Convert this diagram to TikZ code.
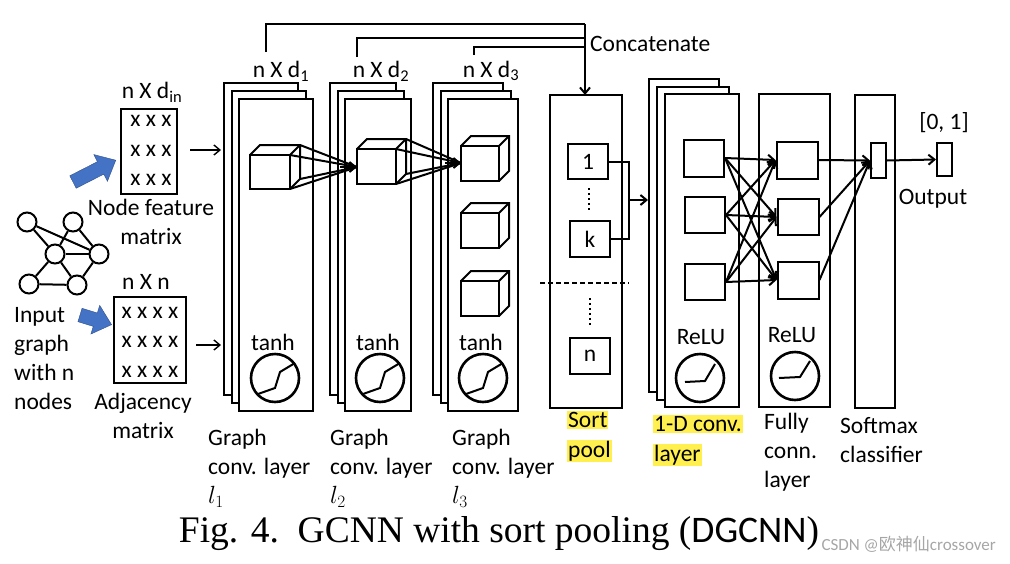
\documentclass[tikz,border=0pt]{standalone}
\usepackage{fontspec}
\setmainfont{Carlito}
\newfontfamily\capfont{Liberation Serif}
\newfontfamily\cjk{Noto Sans CJK SC}
\usetikzlibrary{arrows.meta}
\definecolor{blockblue}{RGB}{68,114,196}
\definecolor{hl}{RGB}{255,240,80}
\newcommand\mycube[5]{% x y w h depth
  \draw[lw,fill=white] (#1,#2) rectangle ++(#3,#4);
  \draw[lw] (#1,#2) -- ++(#5,-#5) -- ++(#3,0) -- ++(0,#4) -- ++(-#5,#5);
  \draw[lw] (#1+#3,#2) -- ++(#5,-#5);
}
\newcommand\blockarrow[4]{% x y angle length
  \fill[blockblue,draw=blockblue!70!black,shift={(#1,#2)},rotate=#3]
    (0,-7) -- (#4-17,-7) -- (#4-17,-15) -- (#4,0) -- (#4-17,15) -- (#4-17,7) -- (0,7) -- cycle;
}
\begin{document}
\begin{tikzpicture}[x=1pt,y=-1pt,
  lw/.style={line width=2pt},
  txt/.style={inner sep=0pt,font=\fontsize{23.5}{29}\selectfont,align=center},
  lbl/.style={txt,anchor=north west,align=left},
  box/.style={draw,lw,fill=white},
  ar/.style={-{Straight Barb[length=6pt,width=10pt]},lw},
  circ/.style={circle,draw,line width=2.6pt,minimum size=48pt,inner sep=0pt},
  gn/.style={circle,draw,lw,minimum size=19pt,inner sep=0pt}]
\useasboundingbox (0,0) rectangle (1010,563);

% input graph
\node[gn] (g1) at (27,222) {};
\node[gn] (g2) at (73,222) {};
\node[gn] (g3) at (55,254) {};
\node[gn] (g4) at (99,254) {};
\node[gn] (g5) at (29,284) {};
\node[gn] (g6) at (77,285) {};
\foreach \a/\b in {g1/g3,g1/g4,g2/g3,g2/g4,g3/g4,g3/g5,g3/g6,g5/g6,g4/g6}
  \draw[lw] (\a) -- (\b);
\node[lbl] (inp) at (14,307) {Input\\graph\\with n\\nodes};

% feature matrix
\node[txt] (din) at (152,92) {n X d\textsubscript{in}};
\node[box,minimum width=56pt,minimum height=85pt] (fm) at (149,151.5) {};
\node[txt] (fr1) at (151,121) {x x x};
\node[txt] (fr2) at (151,151) {x x x};
\node[txt] (fr3) at (151,180) {x x x};
\node[txt] (fml) at (151,222) {Node feature\\matrix};
\blockarrow{73}{182}{27}{48}

% adjacency
\node[txt] (nn) at (146,282) {n X n};
\node[box,minimum width=72pt,minimum height=86pt] (am) at (150,340) {};
\node[txt] (ar1) at (150,313) {x x x x};
\node[txt] (ar2) at (150,342) {x x x x};
\node[txt] (ar3) at (150,372) {x x x x};
\node[txt] (aml) at (143,416) {Adjacency\\matrix};
\blockarrow{80}{315}{-17}{33}

% stacked layers
\foreach \x/\w in {224/74,330/66,433/70} {
  \draw[box] (\x,83) rectangle ++(\w,312);
  \draw[box] (\x+7.5,91) rectangle ++(\w,312);
  \draw[box] (\x+15,99) rectangle ++(\w,312);
}
\coordinate (l1in) at (221,150);
\coordinate (l1in2) at (221,345);
\coordinate (fmo) at (190,150);
\coordinate (amo) at (196,345);
\draw[ar,line width=1.4pt] (fmo) -- (l1in);
\draw[ar,line width=1.4pt] (amo) -- (l1in2);

\node[txt] (d1) at (281,71) {n X d\textsubscript{1}};
\node[txt] (d2) at (381,71) {n X d\textsubscript{2}};
\node[txt] (d3) at (491,71) {n X d\textsubscript{3}};

% cubes
\mycube{250}{155}{40}{34}{10}
\mycube{357}{149}{39}{35}{10}
\mycube{461}{146}{38}{35}{10}
\mycube{461}{213}{38}{35}{10}
\mycube{461}{281}{38}{35}{10}
\coordinate (c2in) at (357,167);
\coordinate (c3in) at (461,163);
\foreach \p in {(290,155),(300,145),(300,179),(290,189)} \draw[lw] \p -- (c2in);
\draw[ar] (340,167) -- (c2in);
\foreach \p in {(396,149),(406,139),(406,174),(396,184)} \draw[lw] \p -- (c3in);
\draw[ar] (445,163) -- (c3in);

% activations
\foreach \cx/\cy/\n in {275/378/t1,380/378/t2,483/378/t3} {
  \node[circ] (\n) at (\cx,\cy) {};
  \draw[lw] (\cx-17,\cy+16) -- (\cx,\cy+10) -- (\cx+5,\cy-6) -- (\cx+20,\cy-15);
  \node[txt] at (\cx-2,\cy-36) {tanh};
}
\node[lbl] (gl1) at (208,429) {Graph\\conv. layer\\$l_1$};
\node[lbl] (gl2) at (330,429) {Graph\\conv. layer\\$l_2$};
\node[lbl] (gl3) at (452,429) {Graph\\conv. layer\\$l_3$};

% sort pool
\draw[box] (550,95) rectangle (622,408);
\node[box,txt,minimum width=40pt,minimum height=35pt] (s1) at (588,161.5) {1};
\node[box,txt,minimum width=40pt,minimum height=36pt] (sk) at (590,239) {k};
\node[box,txt,minimum width=40pt,minimum height=36pt] (sn) at (590,356) {n};
\draw[line width=2.4pt,dash pattern=on 2pt off 3pt] (589,188) -- (589,212);
\draw[line width=2.4pt,dash pattern=on 2pt off 3pt] (590,298) -- (590,326);
\draw[lw,dash pattern=on 5pt off 3pt] (540,283) -- (629,283);
\coordinate (br) at (629,200);
\draw[lw] (s1.east) -| (629,239) -- (sk.east);
\draw[ar] (br) -- (648,200);
\node[txt,fill=hl,inner sep=1pt,anchor=north west] (sp1) at (567,411) {Sort};
\node[txt,fill=hl,inner sep=1pt,anchor=north west] (sp2) at (567,440) {pool};

% concatenate
\coordinate (cc) at (585,24);
\draw[lw] (266,52) |- (cc);
\draw[lw] (357,57) |- (585,38);
\draw[lw] (474,55) |- (585,47);
\draw[ar] (cc) -- (585,95);
\node[txt,anchor=west] (cat) at (590,44) {Concatenate};

% 1-D conv
\draw[box] (649,79) rectangle (719,392);
\draw[box] (657,87) rectangle (729,400);
\draw[box] (665,94) rectangle (739,407);
\node[box,minimum width=40pt,minimum height=37pt] (cv1) at (704,158) {};
\node[box,minimum width=40pt,minimum height=36pt] (cv2) at (705,215) {};
\node[box,minimum width=40pt,minimum height=36pt] (cv3) at (705,282) {};
\node[txt] at (701,337) {ReLU};
\node[circ] (r1) at (700,378) {};
\draw[lw] (685,382) -- (705,381) -- (715,364);
\node[txt,fill=hl,inner sep=1pt,anchor=north west] (cl1) at (653,415) {1-D conv.};
\node[txt,fill=hl,inner sep=1pt,anchor=north west] (cl2) at (653,444) {layer};

% fully connected
\draw[box] (759,94) rectangle (830,407);
\node[box,minimum width=41pt,minimum height=37pt] (fc1) at (797,160) {};
\node[box,minimum width=41pt,minimum height=36pt] (fc2) at (798,217) {};
\node[box,minimum width=41pt,minimum height=37pt] (fc3) at (798,280) {};
\foreach \a in {cv1,cv2,cv3} \foreach \b in {fc1,fc2,fc3}
  \draw[ar] (\a.east) -- (\b.west);
\node[txt] at (792,335) {ReLU};
\node[circ] (r2) at (795,376) {};
\draw[lw] (779,378) -- (800,377) -- (810,361);
\node[lbl] (fcl) at (764,413) {Fully\\conn.\\layer};

% softmax
\draw[box] (855,95) rectangle (895,408);
\node[box,minimum width=15pt,minimum height=35pt] (sm) at (878.5,160.5) {};
\node[box,minimum width=15pt,minimum height=33pt] (out) at (944.5,159.5) {};
\foreach \b in {fc1,fc2,fc3} \draw[ar] (\b.east) -- (sm.west);
\draw[ar] (sm.east) -- (out.west);
\node[txt] (o1) at (944,123) {[0, 1]};
\node[txt] (o2) at (933,199) {Output};
\node[lbl] (sml) at (840,417) {Softmax\\classifier};

% caption
\node[inner sep=0pt,font=\capfont\fontsize{37.5}{38}\selectfont] (cap) at (499,534)
  {Fig. 4.\ \ GCNN with sort pooling ({\rmfamily DGCNN})};
\node[inner sep=0pt,text=black!35,font=\fontsize{17}{18}\selectfont,anchor=east] (wm) at (996,544)
  {CSDN @{\cjk 欧神仙}crossover};
\end{tikzpicture}
\end{document}
